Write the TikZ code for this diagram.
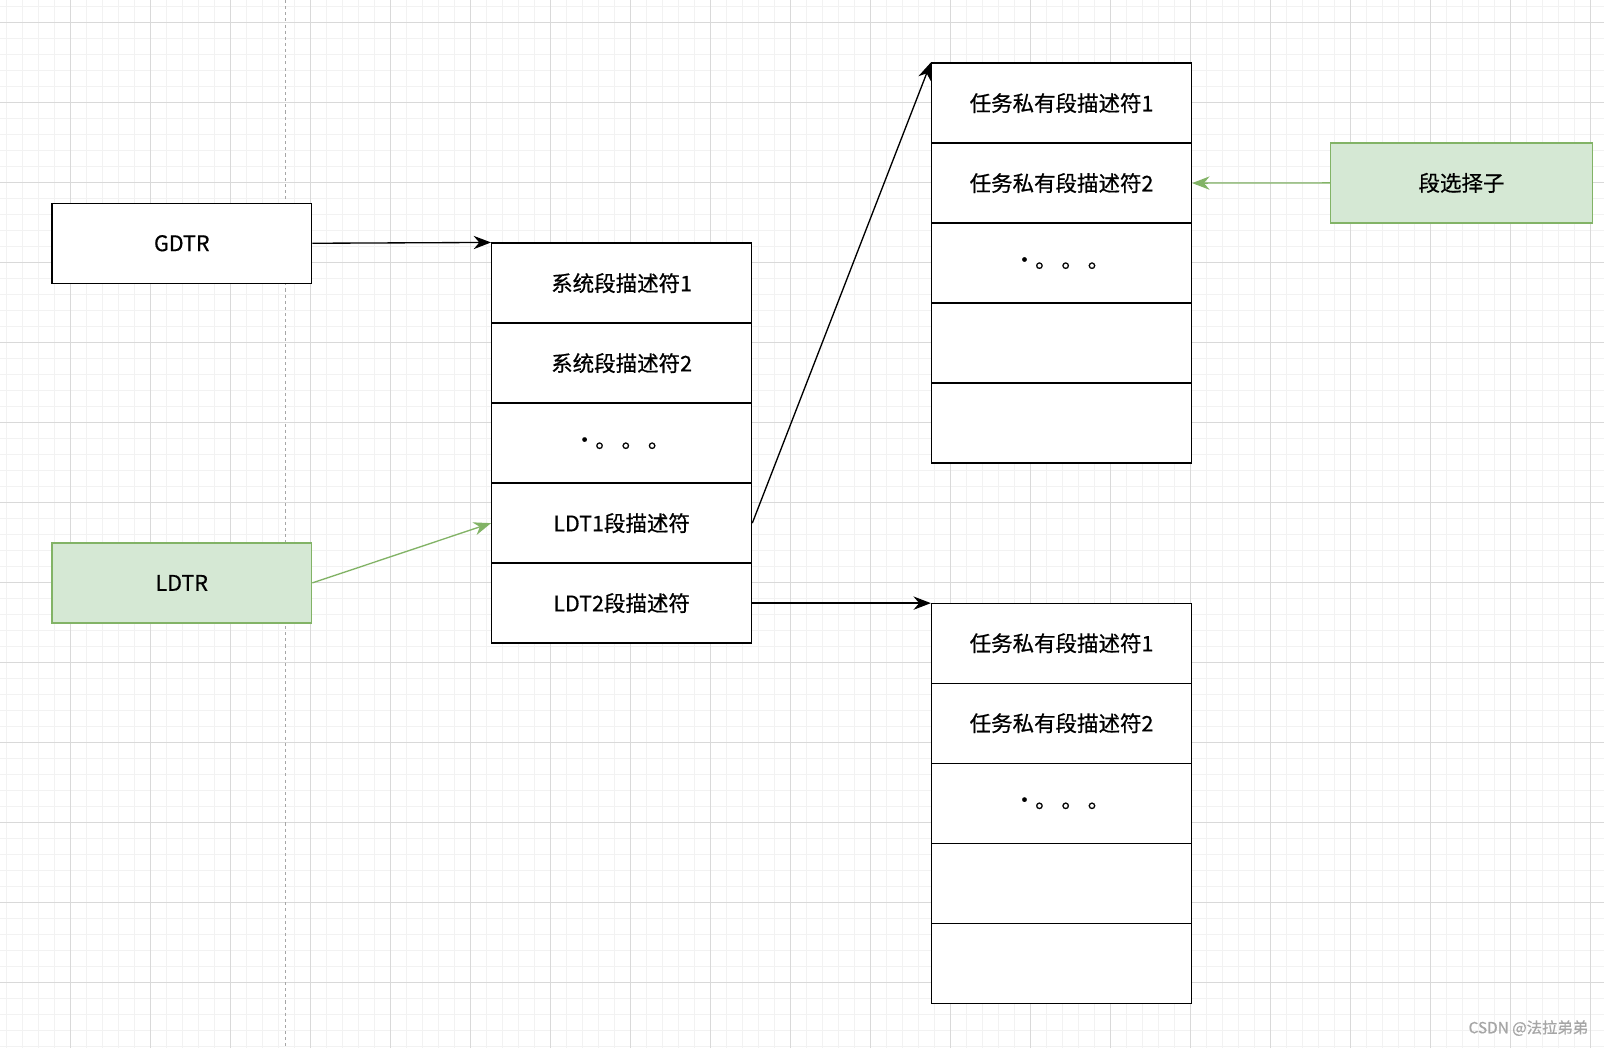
\documentclass[tikz,border=0pt]{standalone}
\usepackage{fontspec}
\setmainfont{Noto Sans CJK SC}[FakeBold=0.6]
\usetikzlibrary{arrows.meta}
\definecolor{gfill}{HTML}{D5E8D4}
\definecolor{gline}{HTML}{82B366}
\begin{document}
\begin{tikzpicture}[x=1pt,y=-1pt,
  cell/.style={draw=black,fill=white,line width=1.4pt,minimum width=254pt,minimum height=78.2pt,inner sep=0pt,anchor=north west,font=\fontsize{21}{25}\selectfont},
  green/.style={cell,fill=gfill,draw=gline},
  arr/.style={line width=1.3pt,-{Stealth[length=17pt,width=13pt]}}]
\useasboundingbox (0,0) rectangle (1568,1024);
\fill[white] (0,0) rectangle (1568,1024);
\foreach \i in {0,...,100} {\draw[black!5,line width=0.6pt] ({-9+15.64*\i},0) -- ({-9+15.64*\i},1024);}
\foreach \i in {0,...,66} {\draw[black!5,line width=0.6pt] (0,{6.4+15.64*\i}) -- (1568,{6.4+15.64*\i});}
\foreach \i in {0,...,20} {\draw[black!15,line width=0.8pt] ({-9+78.2*\i},0) -- ({-9+78.2*\i},1024);}
\foreach \i in {0,...,13} {\draw[black!15,line width=0.8pt] (0,{22+78.2*\i}) -- (1568,{22+78.2*\i});}
\draw[black!35,dashed,line width=1pt] (279,0) -- (279,1024);
\node[cell] (gdtr) at (50,198) {GDTR};
\node[green] (ldtr) at (50,530) {LDTR};
\node[green,minimum width=256pt] (sel) at (1300,139) {段选择子};
\foreach \t [count=\k] in {系统段描述符1,系统段描述符2,·。 。 。,LDT1段描述符,LDT2段描述符}
  \node[cell] (m\k) at (480,{237+78.2*(\k-1)}) {\t};
\foreach \t [count=\k] in {任务私有段描述符1,任务私有段描述符2,·。 。 。,{},{}}
  \node[cell] (a\k) at (910,{61+78.2*(\k-1)}) {\t};
\foreach \t [count=\k] in {任务私有段描述符1,任务私有段描述符2,·。 。 。,{},{}}
  \node[cell] (b\k) at (910,{589+78.2*(\k-1)}) {\t};
\draw[arr] (gdtr.east) -- (m1.north west);
\draw[arr,draw=gline,-{Stealth[length=17pt,width=13pt,fill=gline]}] (ldtr.east) -- (m4.west);
\draw[arr] (m4.east) -- (a1.north west);
\draw[arr] (m5.east) -- (b1.west |- m5.east);
\draw[arr,draw=gline] (sel.west) -- (a2.east);
\node[text=black!35,font=\fontsize{15}{17}\selectfont,anchor=east] (wm) at (1556,1005) {CSDN @法拉弟弟};
\end{tikzpicture}
\end{document}
